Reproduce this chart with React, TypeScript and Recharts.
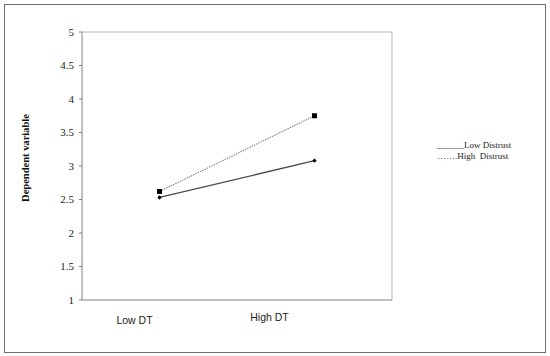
import React from 'react';
import { LineChart, Line, XAxis, YAxis, ReferenceArea } from 'recharts';

const categories = ['Low DT', 'High DT'];
const lowDistrust = [2.53, 3.08];
const highDistrust = [2.62, 3.75];
const yTicks = [1, 1.5, 2, 2.5, 3, 3.5, 4, 4.5, 5];
const seriesNames = ['Low Distrust', 'High  Distrust'];

const data = categories.map((c, i) => ({
  x: i + 0.5,
  name: c,
  low: lowDistrust[i],
  high: highDistrust[i],
}));

const serif = '"Liberation Serif", "Times New Roman", serif';

// the category labels in the original sit left of the points, Excel text boxes style
const labelShift = [
  { dx: -25, dy: 16 },
  { dx: -45, dy: 13 },
];

const XTick = (props: any) => {
  const { x, y, index } = props;
  const s = labelShift[index] || { dx: 0, dy: 0 };
  return (
    <text
      x={x + s.dx}
      y={y + s.dy - 4}
      textAnchor="middle"
      dominantBaseline="central"
      fontFamily='"Liberation Sans", Arial, sans-serif'
      fontSize={10.5}
      fill="#222"
    >
      {categories[index]}
    </text>
  );
};

const Diamond = (props: any) => {
  const { cx, cy, index } = props;
  const r = 2.2;
  return (
    <polygon
      key={`d-${index}`}
      points={`${cx},${cy - r} ${cx + r},${cy} ${cx},${cy + r} ${cx - r},${cy}`}
      fill="#000"
    />
  );
};

const Square = (props: any) => {
  const { cx, cy, index } = props;
  return <rect key={`s-${index}`} x={cx - 2.5} y={cy - 2.5} width={5} height={5} fill="#000" />;
};

export default function App() {
  return (
    <div style={{ position: 'absolute', left: 0, top: 0, width: 550, height: 356 }}>
      <div
        style={{
          position: 'absolute',
          left: 4,
          top: 4,
          width: 540,
          height: 347,
          border: '1px solid #6e6e6e',
        }}
      />
      <div style={{ position: 'absolute', left: 0, top: 0 }}>
        <LineChart width={550} height={356} data={data} margin={{ top: 32, right: 158, bottom: 0, left: 0 }}>
          <XAxis
            dataKey="x"
            type="number"
            domain={[0, 2]}
            ticks={[0.5, 1.5]}
            tick={<XTick />}
            tickLine={false}
            axisLine={{ stroke: '#a6a6a6' }}
            height={56}
          />
          <YAxis
            type="number"
            domain={[1, 5]}
            ticks={yTicks}
            interval={0}
            width={82}
            tickSize={3}
            tickMargin={5}
            axisLine={{ stroke: '#a6a6a6' }}
            tickLine={{ stroke: '#808080' }}
            tick={{ fontFamily: serif, fontSize: 11, fill: '#222' }}
            label={{
              content: (p: any) => {
                const vb = p.viewBox || { y: 32, height: 268 };
                const cy = vb.y + vb.height / 2 - 8;
                return (
                  <text
                    x={25}
                    y={cy}
                    transform={`rotate(-90 25 ${cy})`}
                    textAnchor="middle"
                    dominantBaseline="central"
                    fontFamily={serif}
                    fontSize={10.5}
                    fontWeight="bold"
                    fill="#111"
                  >
                    Dependent variable
                  </text>
                );
              },
            }}
          />
          <ReferenceArea x1={0} x2={2} y1={1} y2={5} fill="none" stroke="#b4b4b4" strokeWidth={1} ifOverflow="visible" />
          <Line
            type="linear"
            dataKey="high"
            name="High Distrust"
            stroke="#8a8a8a"
            strokeWidth={1.2}
            strokeDasharray="1.5 1"
            dot={<Square />}
            activeDot={false}
            isAnimationActive={false}
          />
          <Line
            type="linear"
            dataKey="low"
            name="Low Distrust"
            stroke="#4a4a4a"
            strokeWidth={1.3}
            dot={<Diamond />}
            activeDot={false}
            isAnimationActive={false}
          />
        </LineChart>
      </div>
      <div
        style={{
          position: 'absolute',
          left: 437,
          top: 140,
          fontFamily: serif,
          fontSize: 9,
          lineHeight: '11px',
          color: '#222',
          whiteSpace: 'pre',
        }}
      >
        <div>{'______' + seriesNames[0]}</div>
        <div>{'…….' + seriesNames[1]}</div>
      </div>
    </div>
  );
}
